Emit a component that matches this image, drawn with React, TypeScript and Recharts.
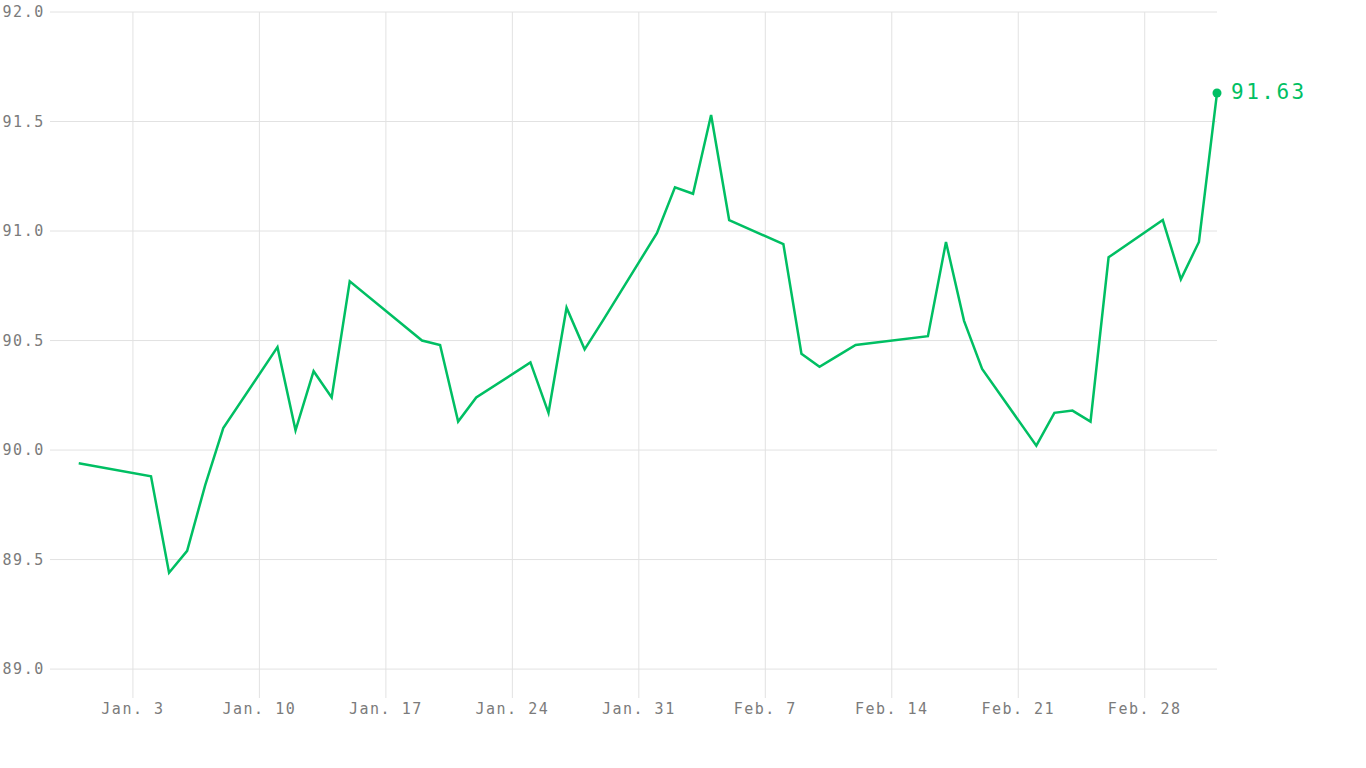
import { LineChart, Line, XAxis, YAxis, ReferenceLine } from 'recharts'

// trading days shown in the chart (US Dollar Index, daily close)
const dates = [
  '2020-12-31', '2021-01-04', '2021-01-05', '2021-01-06', '2021-01-07', '2021-01-08',
  '2021-01-11', '2021-01-12', '2021-01-13', '2021-01-14', '2021-01-15',
  '2021-01-19', '2021-01-20', '2021-01-21', '2021-01-22',
  '2021-01-25', '2021-01-26', '2021-01-27', '2021-01-28', '2021-01-29',
  '2021-02-01', '2021-02-02', '2021-02-03', '2021-02-04', '2021-02-05',
  '2021-02-08', '2021-02-09', '2021-02-10', '2021-02-11', '2021-02-12',
  '2021-02-16', '2021-02-17', '2021-02-18', '2021-02-19',
  '2021-02-22', '2021-02-23', '2021-02-24', '2021-02-25', '2021-02-26',
  '2021-03-01', '2021-03-02', '2021-03-03', '2021-03-04'
]

const values = [
  89.94, 89.88, 89.44, 89.54, 89.84, 90.1,
  90.47, 90.09, 90.36, 90.24, 90.77,
  90.5, 90.48, 90.13, 90.24,
  90.4, 90.17, 90.65, 90.46, 90.59,
  90.99, 91.2, 91.17, 91.53, 91.05,
  90.94, 90.44, 90.38, 90.43, 90.48,
  90.52, 90.95, 90.59, 90.37,
  90.02, 90.17, 90.18, 90.13, 90.88,
  91.05, 90.78, 90.95, 91.63
]

const tickDates = [
  '2021-01-03', '2021-01-10', '2021-01-17', '2021-01-24', '2021-01-31',
  '2021-02-07', '2021-02-14', '2021-02-21', '2021-02-28'
]
const tickLabels = [
  'Jan. 3', 'Jan. 10', 'Jan. 17', 'Jan. 24', 'Jan. 31',
  'Feb. 7', 'Feb. 14', 'Feb. 21', 'Feb. 28'
]

const yTicks = [89, 89.5, 90, 90.5, 91, 91.5, 92]

const GREEN = '#00bf63'
const GRID = '#e2e2e2'
const MONO = '"DejaVu Sans Mono", "Liberation Mono", monospace'

const origin = Date.UTC(2021, 0, 3)
const toDay = (s: string) => {
  const [y, m, d] = s.split('-').map(Number)
  return (Date.UTC(y, m - 1, d) - origin) / 86400000
}

const data = dates.map((d, i) => ({ day: toDay(d), value: values[i] }))
const xTicks = tickDates.map(toDay)
const labelFor = (v: number) => tickLabels[xTicks.indexOf(v)] ?? ''

const lastIndex = data.length - 1

const EndDot = (props: any) => {
  const { cx, cy, index, value } = props
  if (index !== lastIndex) return <g key={index} />
  return (
    <g key={index}>
      <circle cx={cx} cy={cy} r={4.5} fill={GREEN} />
      <text
        x={cx + 14}
        y={cy - 1}
        dominantBaseline="central"
        fill={GREEN}
        fontFamily={MONO}
        fontSize={21}
        letterSpacing={2.5}
      >
        {Number(value).toFixed(2)}
      </text>
    </g>
  )
}

export default function App() {
  return (
    <div style={{ position: 'fixed', top: 0, left: 0, background: '#fff' }}>
      <LineChart
        width={1366}
        height={768}
        data={data}
        margin={{ top: 12, right: 149, bottom: 40, left: 0 }}
      >
        <XAxis
          dataKey="day"
          type="number"
          domain={[-4.59, 60]}
          ticks={xTicks}
          tickFormatter={labelFor}
          axisLine={false}
          tickLine={false}
          tickSize={3}
          tickMargin={2}
          height={30}
          tick={{ fill: '#7b7b7b', fontSize: 15, fontFamily: MONO, letterSpacing: 1.5 }}
        />
        <YAxis
          type="number"
          domain={[88.868, 92]}
          ticks={yTicks}
          tickFormatter={(v: number) => v.toFixed(1)}
          axisLine={false}
          tickLine={false}
          tickSize={5}
          tickMargin={0}
          width={50}
          tick={{ fill: '#7b7b7b', fontSize: 15, fontFamily: MONO, letterSpacing: 1.6 }}
        />
        {/* grid only on the ticks, no frame around the plot */}
        {xTicks.map((t) => (
          <ReferenceLine key={'x' + t} x={t} stroke={GRID} strokeWidth={1} />
        ))}
        {yTicks.map((t) => (
          <ReferenceLine key={'y' + t} y={t} stroke={GRID} strokeWidth={1} />
        ))}
        <Line
          type="linear"
          dataKey="value"
          stroke={GREEN}
          strokeWidth={2.5}
          dot={EndDot}
          activeDot={false}
          isAnimationActive={false}
        />
      </LineChart>
    </div>
  )
}
